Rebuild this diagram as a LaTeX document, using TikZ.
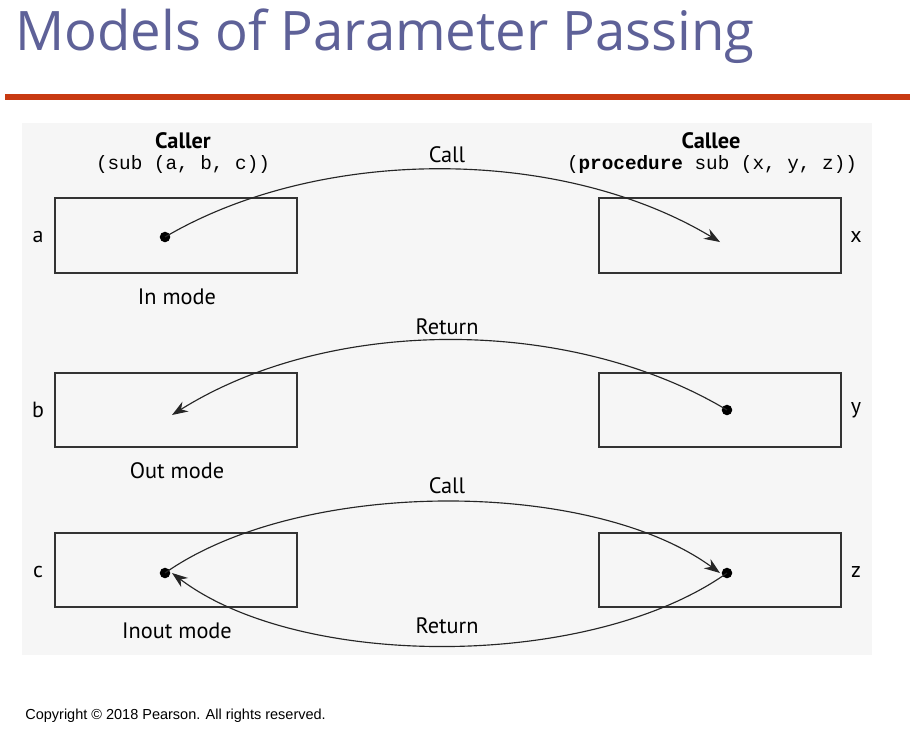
\documentclass[tikz,border=0pt]{standalone}
\usepackage{fontspec}
\setmainfont{PT Sans}
\newfontfamily\titlefont{Open Sans}
\newfontfamily\copyfont{Liberation Sans}
\setmonofont{Liberation Mono}
\usetikzlibrary{arrows.meta}
\definecolor{titleblue}{HTML}{5E6198}
\definecolor{rulered}{HTML}{C83A12}
\definecolor{panel}{HTML}{F6F6F6}
\begin{document}
\begin{tikzpicture}[x=0.02cm,y=-0.02cm,
  varbox/.style={draw=black!80,line width=0.7pt,fill=panel},
  lbl/.style={font=\fontsize{12.7}{14}\selectfont,inner sep=0pt},
  dot/.style={circle,fill=black,inner sep=0pt,minimum size=6pt},
  flow/.style={draw=black!85,line width=0.65pt,-{Stealth[length=9pt,width=6.5pt]}},
  varname/.style={font=\fontsize{12.5}{14}\selectfont,inner sep=0pt}]
\fill[white] (0,0) rectangle (910,735);
\useasboundingbox (0,0) rectangle (910,735);
\node[anchor=west,inner sep=0pt,text=titleblue,font=\titlefont\fontsize{31}{34}\selectfont] (title) at (15,36) {Models of Parameter Passing};
\fill[rulered] (5,94) rectangle (910,100);
\fill[panel] (22,123) rectangle (872,655);
% boxes
\draw[varbox] (55,198) rectangle (297,273);
\draw[varbox] (599,198) rectangle (841,273);
\draw[varbox] (55,373) rectangle (297,447);
\draw[varbox] (599,373) rectangle (841,447);
\draw[varbox] (55,533) rectangle (297,607);
\draw[varbox] (599,533) rectangle (841,607);
% headings
\node[lbl,font=\bfseries\fontsize{12.7}{14}\selectfont] (caller) at (183,141) {Caller};
\node[lbl,font=\ttfamily\fontsize{11}{13}\selectfont] (callersig) at (183,164) {(sub (a, b, c))};
\node[lbl,font=\bfseries\fontsize{12.7}{14}\selectfont] (callee) at (711,141) {Callee};
\node[lbl,font=\ttfamily\fontsize{11}{13}\selectfont] (calleesig) at (712,164) {(\textbf{procedure} sub (x, y, z))};
% variable names
\node[varname] (na) at (38,237) {a};
\node[varname] (nx) at (856,237) {x};
\node[varname] (nb) at (38,410) {b};
\node[varname] (ny) at (856,410) {y};
\node[varname] (nc) at (38,572) {c};
\node[varname] (nz) at (856,572) {z};
% mode labels
\node[lbl] (inmode) at (177,297) {In mode};
\node[lbl] (outmode) at (177,471) {Out mode};
\node[lbl] (inoutmode) at (177,631) {Inout mode};
% dots and end points
\node[dot] (da) at (165,237) {};
\coordinate (ex) at (720,242);
\node[dot] (dy) at (727,410) {};
\coordinate (eb) at (172,415);
\node[dot] (dc) at (165,573) {};
\node[dot] (dz) at (727,573) {};
% arrows
\draw[flow] (da.center) .. controls (320,146) and (560,146) .. (ex);
\node[lbl] (call1) at (447,155) {Call};
\draw[flow] (dy.center) .. controls (570,316) and (330,316) .. (eb);
\node[lbl] (ret1) at (447,327) {Return};
\draw[flow] (dc.center) .. controls (300,478) and (590,478) .. ([xshift=-4pt]dz.center);
\node[lbl] (call2) at (447,486) {Call};
\draw[flow] (dz.center) .. controls (590,670) and (300,670) .. ([xshift=4pt]dc.center);
\node[lbl] (ret2) at (447,626) {Return};
% copyright
\node[anchor=west,inner sep=0pt,font=\copyfont\fontsize{8.25}{10}\selectfont] (copy) at (25,716) {Copyright \textcopyright{} 2018 Pearson. All rights reserved.};
\end{tikzpicture}
\end{document}
